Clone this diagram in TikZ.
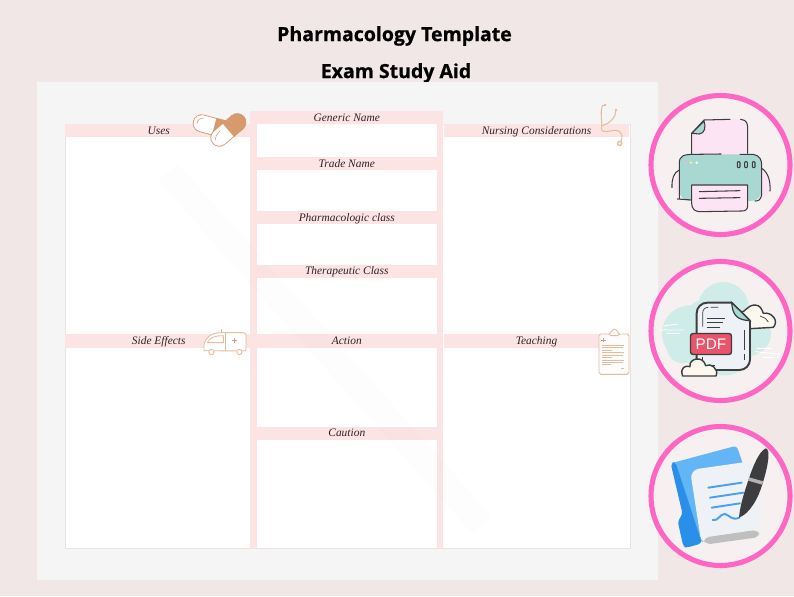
\documentclass[tikz,border=0pt]{standalone}
\usepackage{fontspec}
\setmainfont{Liberation Serif}
\newfontfamily\titlefont[BoldFeatures={FakeBold=0.7}]{Open Sans}
\newfontfamily\pdffont{Liberation Sans}
\usetikzlibrary{positioning}
\definecolor{pageblush}{HTML}{F1E7E7}
\definecolor{panelgrey}{HTML}{F5F5F5}
\definecolor{headpink}{HTML}{FCE4E4}
\definecolor{sheetline}{HTML}{EBE3E3}
\definecolor{labelink}{HTML}{2B2226}
\definecolor{ringpink}{HTML}{FF66C4}
\definecolor{ringfill}{HTML}{F6F0F0}
\definecolor{iconpeach}{HTML}{E6BC9F}
\definecolor{pillbrown}{HTML}{D69A6C}
\definecolor{printerteal}{HTML}{A9D8D2}
\definecolor{printerpink}{HTML}{FCE4F4}
\definecolor{inkdark}{HTML}{3D3D40}
\definecolor{mintcloud}{HTML}{CFECE8}
\definecolor{pdfred}{HTML}{E9546B}
\definecolor{creamcloud}{HTML}{FBF8EE}
\definecolor{folderblue}{HTML}{64B5F6}
\definecolor{spineblue}{HTML}{2A8FE8}
\definecolor{notepage}{HTML}{EEF2F6}

\begin{document}
\begin{tikzpicture}[x=0.02cm,y=-0.02cm,node distance=0pt]
\tikzstyle{titleText} = [font=\titlefont\bfseries\fontsize{11.1}{13}\selectfont, text=black, inner sep=0pt]
\tikzstyle{headBar} = [rectangle, fill=headpink, text=labelink, inner sep=0pt, outer sep=0pt, minimum height=0.26cm, text height=5pt, text depth=1pt, font=\itshape\fontsize{6.5}{8}\selectfont]
\tikzstyle{midHead} = [headBar, minimum width=3.86cm]
\tikzstyle{sideHead} = [headBar, minimum height=0.28cm]
\tikzstyle{midCell} = [rectangle, fill=white, inner sep=0pt, outer sep=0pt, minimum width=3.6cm]
\tikzstyle{ring} = [circle, draw=ringpink, fill=ringfill, line width=2.9pt, minimum size=2.78cm, inner sep=0pt]
\tikzstyle{peachLine} = [draw=iconpeach, line width=0.5pt, line cap=round, line join=round]
\tikzstyle{inkLine} = [draw=inkdark, line width=0.6pt, line cap=round, line join=round]
\tikzstyle{cloudLine} = [draw=inkdark, line width=0.8pt, line join=round, fill=creamcloud]

\useasboundingbox (0,0) rectangle (794,596);
\fill[pageblush] (0,0) rectangle (794,596);

\node (titleTop) [titleText] at (394.5,36) {Pharmacology Template};
\node (titleBottom) [titleText] at (396,73) {Exam Study Aid};

\node (panel) [rectangle, fill=panelgrey, minimum width=12.42cm, minimum height=9.96cm, inner sep=0pt] at (347.5,331) {};
\node (sheet) [rectangle, fill=white, draw=sheetline, line width=0.4pt, minimum width=11.3cm, minimum height=8.48cm, inner sep=0pt] at (347.5,336) {};

\node (usesHead) [headBar, minimum width=3.7cm] at (157.5,130.5) {\hspace{0.05cm}Uses};
\node (nursingHead) [headBar, minimum width=3.72cm] at (536.5,130.5) {Nursing Considerations};
\node (effectsHead) [sideHead, minimum width=3.7cm] at (157.5,341) {\hspace{0.05cm}Side Effects};
\node (teachingHead) [sideHead, minimum width=3.72cm] at (536.5,341) {Teaching};

\node (midBand) [rectangle, fill=headpink, minimum width=3.86cm, minimum height=8.74cm, inner sep=0pt] at (346.8,329.5) {};
\node (genericHead) [midHead] at (346.8,117.5) {Generic Name};
\node (genericCell) [midCell, minimum height=0.66cm, below=of genericHead] {};
\node (tradeHead) [midHead, below=of genericCell] {Trade Name};
\node (tradeCell) [midCell, minimum height=0.82cm, below=of tradeHead] {};
\node (classHead) [midHead, below=of tradeCell] {Pharmacologic class};
\node (classCell) [midCell, minimum height=0.82cm, below=of classHead] {};
\node (therapyHead) [midHead, below=of classCell] {Therapeutic Class};
\node (therapyCell) [midCell, minimum height=1.12cm, below=of therapyHead] {};
\node (actionHead) [midHead, minimum height=0.28cm, below=of therapyCell] {Action};
\node (actionCell) [midCell, minimum height=1.58cm, below=of actionHead] {};
\node (cautionHead) [midHead, below=of actionCell] {Caution};
\node (cautionCell) [midCell, minimum height=2.16cm, below=of cautionHead] {};

\draw[black, opacity=0.008, line width=15pt] (168,172) -- (482,525);

\draw[pillbrown, line width=10.2pt, line cap=round] (201.7,123.3) -- (226.7,130);
\draw[white, line width=9.2pt, line cap=round] (201.7,123.3) -- (226.7,130);
\begin{scope}
\clip (210.6,140) -- (217.8,113) -- (260,113) -- (260,140) -- cycle;
\draw[pillbrown, line width=10.2pt, line cap=round] (201.7,123.3) -- (226.7,130);
\end{scope}
\draw[pillbrown, line width=10.2pt, line cap=round] (219.3,137.7) -- (237.3,122.3);
\draw[white, line width=9.2pt, line cap=round] (219.3,137.7) -- (237.3,122.3);
\begin{scope}
\clip (211,110) -- (245.4,150) -- (260,150) -- (260,110) -- cycle;
\draw[pillbrown, line width=10.2pt, line cap=round] (219.3,137.7) -- (237.3,122.3);
\end{scope}
\draw[pillbrown, line width=0.3pt] (197,124) .. controls (197,120) and (200,118) .. (204,118);
\draw[pillbrown, line width=0.3pt] (215.5,140) .. controls (215,137) and (217,134) .. (220,131);

\begin{scope}[shift={(190,320)},scale=0.3333]
\draw[peachLine, fill=white] (42,92) -- (42,75) .. controls (50,45) and (70,38) .. (95,38) -- (160,38) .. controls (166,38) and (168,42) .. (168,46) -- (168,86) .. controls (168,92) and (166,93) .. (160,93) -- cycle;
\draw[peachLine] (52,68) .. controls (60,52) and (75,47) .. (100,47) -- (100,68) -- cycle;
\draw[peachLine] (105,38) -- (105,93);
\draw[peachLine] (93,28) -- (93,38);
\draw[draw=pillbrown, line width=0.5pt] (126,61) -- (141,61) (133.5,54) -- (133.5,68);
\draw[peachLine, fill=white] (64,96) circle (8);
\draw[peachLine, fill=white] (148,96) circle (8);
\end{scope}

\begin{scope}[shift={(580,95)},scale=0.3333]
\draw[peachLine, line width=0.6pt] (76,30) .. controls (62,26) and (62,50) .. (66,92);
\draw[peachLine, line width=0.6pt] (108,45) .. controls (108,65) and (92,85) .. (66,92) .. controls (58,112) and (75,112) .. (95,107) .. controls (125,100) and (133,125) .. (120,145);
\draw[peachLine, line width=0.8pt, fill=white] (119,145) circle (6);
\draw[peachLine, fill=iconpeach] (108,45) circle (2.5);
\draw[peachLine, fill=iconpeach] (75,30) circle (2.5);
\end{scope}

\begin{scope}[shift={(580,320)},scale=0.3333]
\draw[peachLine, rounded corners=1pt, fill=panelgrey!30!white] (57,42) rectangle (147,163);
\draw[peachLine, rounded corners=1pt, fill=white] (87,47) -- (87,38) -- (96,36) .. controls (98,26) and (108,26) .. (110,36) -- (119,38) -- (119,47) -- cycle;
\draw[draw=pillbrown, line width=0.5pt] (64,60) -- (77,60) (70.5,54) -- (70.5,67);
\foreach \ylevel/\xend in {75/132,82/130,90/95,98/132,105/130,113/95,120/132,127/128,134/92} {
  \draw[draw=iconpeach, line width=0.45pt] (66,\ylevel) -- (\xend,\ylevel);
}
\draw[draw=iconpeach, line width=0.45pt] (122,145) -- (133,145);
\end{scope}

\node (printerRing) [ring] at (720.5,165) {};
\begin{scope}[shift={(640,85)},scale=0.3333]
\fill[printerpink] (100,300) -- (118,258) -- (118,345) -- cycle;
\draw[inkLine] (118,255) .. controls (100,262) and (95,285) .. (96,308);
\fill[printerpink] (365,250) .. controls (385,262) and (392,290) .. (390,318) -- (365,345) -- cycle;
\draw[inkLine] (365,250) .. controls (385,262) and (392,290) .. (390,318);
\fill[printerpink] (155,145) -- (192,105) -- (305,103) .. controls (320,105) and (323,115) .. (323,130) -- (323,215) -- (155,215) -- cycle;
\draw[inkLine] (155,210) -- (155,145) -- (192,105) -- (270,103);
\draw[inkLine] (302,103) .. controls (320,105) and (323,115) .. (323,130) -- (323,205);
\draw[inkLine, fill=printerteal] (155,145) -- (192,108) .. controls (198,125) and (195,145) .. (178,147) -- cycle;
\fill[printerteal, rounded corners=6pt] (118,208) rectangle (365,348);
\draw[inkLine] (243,207) -- (165,208) .. controls (130,208) and (118,212) .. (118,235) -- (118,340) (112,342) -- (155,345);
\draw[inkLine] (300,208) -- (340,208) .. controls (360,212) and (365,225) .. (365,240) -- (365,330) .. controls (362,345) and (355,348) .. (345,348);
\draw[inkLine, fill=printerpink] (155,300) -- (323,300) -- (323,362) .. controls (323,375) and (315,378) .. (305,378) -- (180,380) .. controls (165,380) and (155,372) .. (155,355) -- cycle;
\draw[inkLine] (178,320) -- (300,317) (178,340) -- (300,338);
\fill[printerpink!60!ringpink] (137,233) circle (4);
\fill[yellow!55!white] (153,233) circle (4);
\fill[white] (170,233) circle (4);
\foreach \xbtn in {296,318,341} {
  \draw[inkLine, rounded corners=0.5pt] (\xbtn-4,230) rectangle (\xbtn+4,248);
}
\end{scope}

\node (pdfRing) [ring] at (720.5,331) {};
\begin{scope}[shift={(640,250)},scale=0.3333]
\fill[mintcloud] (250,172) circle (76) (150,250) circle (84) (325,250) circle (68) (255,290) circle (86) (190,200) circle (50) (130,290) circle (50);
\draw[cloudLine] (300,188) .. controls (318,186) and (322,165) .. (345,165) .. controls (362,165) and (366,180) .. (370,190) .. controls (395,185) and (418,212) .. (400,232) -- (330,236) -- cycle;
\draw[draw=inkdark, line width=0.4pt] (360,198) -- (376,205) -- (385,216);
\draw[draw=inkdark, line width=1.1pt, line join=round, rounded corners=6pt, fill=notepage] (275,158) -- (170,158) -- (170,360) -- (330,360) -- (330,212);
\draw[draw=inkdark, line width=1.1pt, line join=round, fill=notepage] (275,158) -- (330,212);
\draw[draw=inkdark, line width=0.7pt, fill=printerteal] (275,158) .. controls (278,195) and (290,210) .. (330,212) -- cycle;
\draw[draw=inkdark, line width=0.4pt] (200,205) -- (255,205) (200,218) -- (250,218) (200,232) -- (240,232);
\draw[draw=inkdark, line width=0.4pt] (188,230) -- (188,190) .. controls (188,178) and (195,172) .. (205,172) (212,172) -- (235,172);
\draw[draw=inkdark, line width=0.4pt] (188,322) -- (188,345) -- (225,345) (312,240) -- (312,300) (312,312) -- (312,330);
\node (pdfBadge) [rectangle, rounded corners=1.5pt, draw=inkdark, line width=0.8pt, fill=pdfred, text=white, minimum width=0.82cm, minimum height=0.42cm, inner sep=0pt, font=\pdffont\fontsize{8.7}{10}\selectfont] at (213,282) {PDF};
\draw[cloudLine] (128,378) .. controls (118,352) and (138,345) .. (150,350) .. controls (145,325) and (190,315) .. (197,347) .. controls (212,337) and (238,358) .. (228,378) -- cycle;
\draw[white, line width=0.5pt] (58,240) -- (132,240) (70,228) -- (112,222) (80,250) -- (120,250) (345,305) -- (420,312) (350,295) -- (395,295) (370,322) -- (400,322);
\end{scope}

\node (notesRing) [ring] at (720.5,496) {};
\begin{scope}[shift={(640,415)},scale=0.3333]
\fill[folderblue, rounded corners=2pt] (92,145) -- (290,92) -- (310,150) -- (300,330) -- (185,385) -- cycle;
\fill[spineblue, rounded corners=2pt] (92,145) -- (106,140) -- (186,385) -- (140,398) -- (130,395) -- (113,318) -- (128,298) -- cycle;
\fill[notepage, rounded corners=5pt] (150,165) -- (338,138) -- (366,335) -- (360,350) -- (185,390) -- cycle;
\fill[black!25, rounded corners=3pt] (190,368) -- (355,344) -- (360,366) -- (195,389) -- cycle;
\draw[spineblue!85!white, line width=1.1pt, line cap=round] (205,218) -- (305,203) (210,248) -- (310,233) (215,278) -- (300,265);
\draw[spineblue!85!white, line width=1.1pt, line cap=round] (218,315) .. controls (235,320) and (240,295) .. (255,297) .. controls (268,300) and (275,318) .. (298,308);
\fill[inkdark] (297,308) .. controls (300,270) and (315,225) .. (327,190) .. controls (340,150) and (360,105) .. (378,100) .. controls (392,105) and (385,150) .. (368,205) .. controls (355,250) and (330,295) .. (297,308) -- cycle;
\draw[black!30, line width=2pt] (326,192) -- (368,204);
\end{scope}
\end{tikzpicture}
\end{document}
